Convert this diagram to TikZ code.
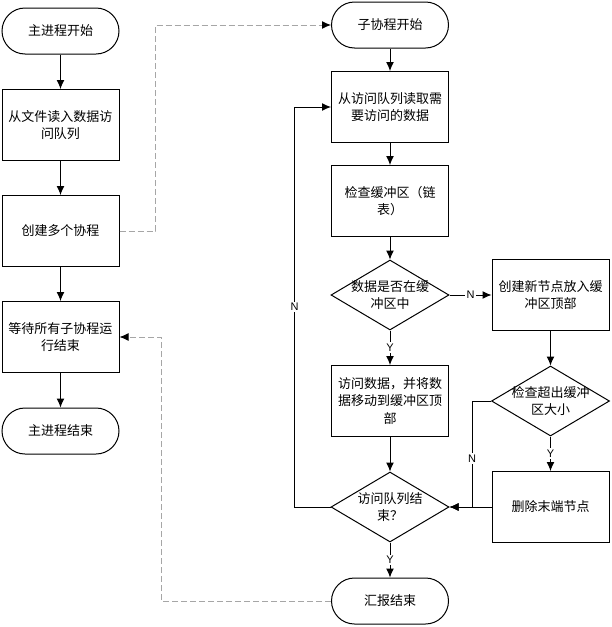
\documentclass[tikz,border=0pt]{standalone}
\usepackage{fontspec}
\newfontfamily\cjk{Noto Sans CJK SC}
\newfontfamily\lab{Liberation Sans}
\usetikzlibrary{shapes.geometric, arrows.meta, positioning}
\tikzstyle{startstop} = [rectangle, rounded corners=23pt, minimum width=117pt, minimum height=46pt, text centered, draw=black]
\tikzstyle{process} = [rectangle, minimum width=117pt, minimum height=71pt, align=center, draw=black]
\tikzstyle{decision} = [diamond, aspect=1.69, minimum width=118pt, minimum height=70pt, inner sep=-4pt, align=center, draw=black]
\tikzstyle{arrow} = [->, >={Latex[length=9pt, width=8pt]}]
\tikzstyle{dasharrow} = [draw=gray!70, dash pattern=on 6pt off 3pt, -{Latex[length=9pt, width=8pt, color=black]}]
\tikzstyle{yn} = [fill=white, inner sep=1.5pt, font=\lab\fontsize{11}{12}\selectfont]

\begin{document}
\begin{tikzpicture}[node distance=94pt, line width=1pt, font=\cjk\fontsize{13}{17.5}\selectfont]
\useasboundingbox (0,0) rectangle (611pt,-627pt);

% Main process
\node (main_start) [startstop] at (60.5pt,-31pt) {主进程开始};
\node (read_file) [process, below of=main_start] {从文件读入数据访\\问队列};
\node (create_co) [process, below of=read_file, yshift=-12pt] {创建多个协程};
\node (wait_all) [process, below of=create_co, yshift=-12pt] {等待所有子协程运\\行结束};
\node (main_end) [startstop, below of=wait_all] {主进程结束};

% Coroutine
\node (sub_start) [startstop] at (390pt,-25pt) {子协程开始};
\node (read_data) [process, below of=sub_start, yshift=12pt] {从访问队列读取需\\要访问的数据};
\node (check_buf) [process, below of=read_data] {检查缓冲区（链\\表）};
\node (in_buffer) [decision, below of=check_buf] {数据是否在缓\\冲区中};
\node (access_data) [process, below of=in_buffer, yshift=-12pt] {访问数据，并将数\\据移动到缓冲区顶\\部};
\node (queue_end) [decision, below of=access_data, yshift=-12pt] {访问队列结\\束？};
\node (report_end) [startstop, below of=queue_end] {汇报结束};

% Buffer branch
\node (new_node) [process, right of=in_buffer, xshift=66.5pt] {创建新节点放入缓\\冲区顶部};
\node (over_size) [decision, below of=new_node, yshift=-12pt] {检查超出缓冲\\区大小};
\node (del_tail) [process, below of=over_size, yshift=-12pt] {删除末端节点};

% Arrows
\draw [arrow] (main_start) -- (read_file);
\draw [arrow] (read_file) -- (create_co);
\draw [arrow] (create_co) -- (wait_all);
\draw [arrow] (wait_all) -- (main_end);

\draw [arrow] (sub_start) -- (read_data);
\draw [arrow] (read_data) -- (check_buf);
\draw [arrow] (check_buf) -- (in_buffer);
\draw [arrow] (in_buffer) -- node[yn] {Y} (access_data);
\draw [arrow] (in_buffer) -- node[yn] {N} (new_node);
\draw [arrow] (new_node) -- (over_size);
\draw [arrow] (over_size) -- node[yn] {Y} (del_tail);
\draw [arrow] (over_size.west) -- ++(-19pt,0) |- node[yn, pos=0.27] {N} (queue_end.east);
\draw [arrow] (del_tail) -- (queue_end);
\draw [arrow] (access_data) -- (queue_end);
\draw [arrow] (queue_end.west) -- ++(-36pt,0) |- node[yn, pos=0.25] {N} (read_data.west);
\draw [arrow] (queue_end) -- node[yn] {Y} (report_end);

% Dashed links
\draw [dasharrow] (create_co.east) -- ++(36pt,0) |- (sub_start.west);
\draw [dasharrow] (report_end.west) -- ++(-170pt,0) |- (wait_all.east);

\end{tikzpicture}
\end{document}
